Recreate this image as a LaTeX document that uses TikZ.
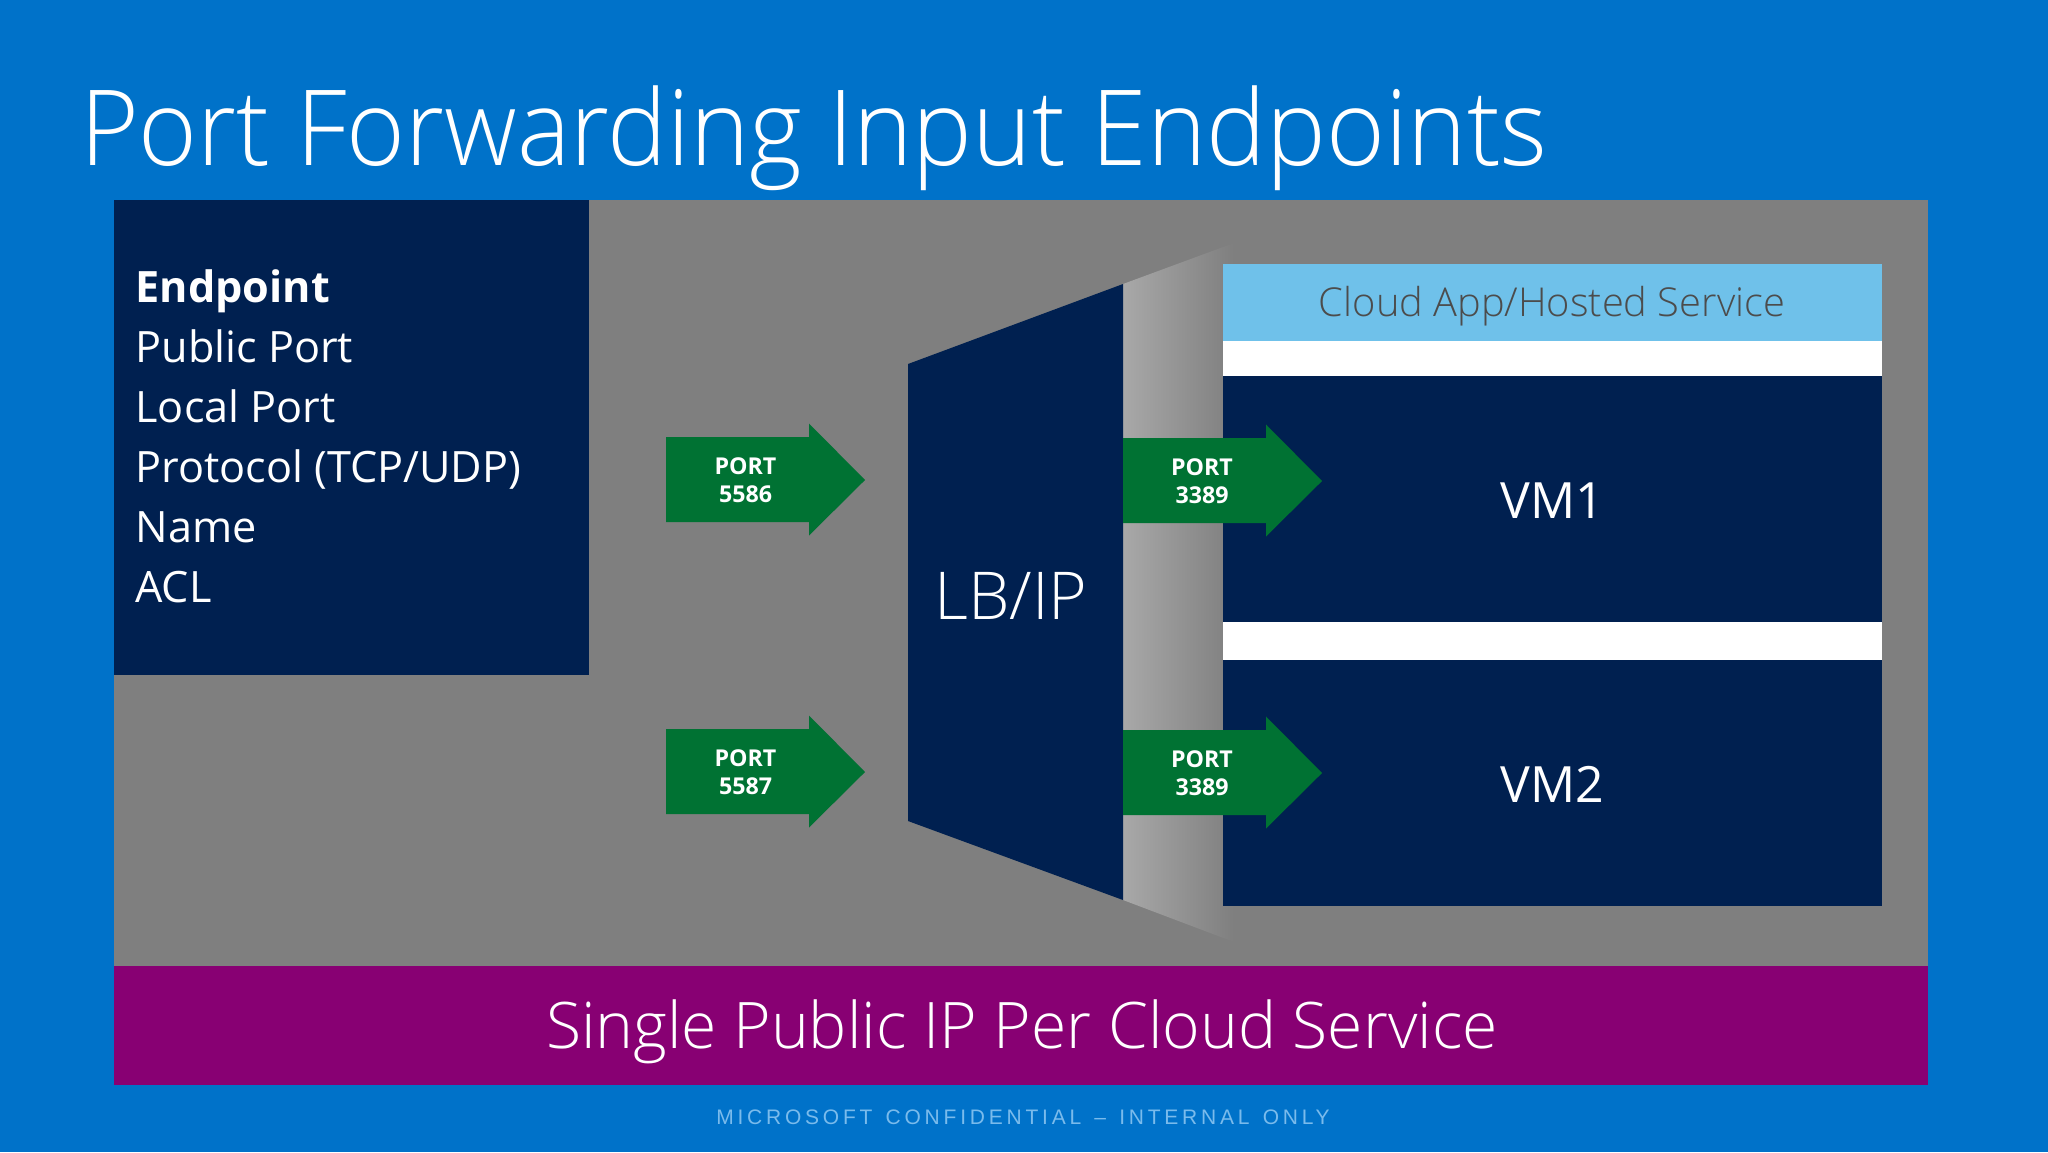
\documentclass[tikz,border=0pt]{standalone}
\usepackage{fontspec}
\setmainfont{Open Sans}
\newfontfamily\lightf{Open Sans Light}
\newfontfamily\titlef{Open Sans Light}[FakeStretch=0.957]
\newfontfamily\regf{Open Sans}
\newfontfamily\footf{Liberation Sans}[LetterSpace=18,WordSpace=1.37]
\definecolor{bgblue}{HTML}{0072C9}
\definecolor{panel}{HTML}{7F7F7F}
\definecolor{navy}{HTML}{002050}
\definecolor{arrowgreen}{HTML}{007233}
\definecolor{plum}{HTML}{880073}
\definecolor{sky}{HTML}{6FC1EA}
\definecolor{footc}{HTML}{7ABBEC}
\tikzset{
  lbl/.style={text=white,inner sep=0pt,outer sep=0pt,align=center},
  portlbl/.style={lbl,font=\fontsize{11.6}{13.8}\selectfont\bfseries},
}
\newcommand{\portarrow}[2]{%
  \fill[arrowgreen] (#1,#2) -- (#1+143,#2) -- (#1+143,#2-13.5) -- (#1+199,#2+43) -- (#1+143,#2+98.5) -- (#1+143,#2+85) -- (#1,#2+85) -- cycle;}
\begin{document}
\begin{tikzpicture}[x=0.5pt,y=-0.5pt]
\useasboundingbox (0,0) rectangle (2048,1152);
\fill[bgblue] (0,0) rectangle (2048,1152);
\node[lbl,anchor=base west,font=\titlef\fontsize{52.5}{60}\selectfont] (title) at (80,165) {Port Forwarding Input Endpoints};
\fill[panel] (114,200) rectangle (1928,966);
\fill[navy] (114,200) rectangle (589,675);
\node[lbl,anchor=north west,align=left,font=\regf\fontsize{21.6}{30}\selectfont] (props) at (135.5,270)
  {\textbf{Endpoint}\\Public Port\\Local Port\\Protocol (TCP/UDP)\\Name\\ACL};
% gradient band behind the balancer
\shade[shading angle=90,left color=white!66!black,right color=panel]
  (1123,284) -- (1234,243) -- (1234,942) -- (1123,900) -- cycle;
\fill[navy] (908,364) -- (1123,284) -- (1123,900) -- (908,821) -- cycle;
\node[lbl,font=\lightf\fontsize{33}{38}\selectfont] (lb) at (1011,596) {LB/IP};
% cloud service
\fill[white] (1223,264) rectangle (1882,660);
\fill[sky] (1223,264) rectangle (1882,341);
\fill[navy] (1223,376) rectangle (1882,622);
\fill[navy] (1223,660) rectangle (1882,906);
\node[lbl,text=black!70,font=\lightf\fontsize{19.9}{24}\selectfont] (cloud) at (1552,306) {Cloud App/Hosted Service};
\node[lbl,font=\regf\fontsize{25}{28}\selectfont] (vm1) at (1552,501) {VM1};
\node[lbl,font=\regf\fontsize{25}{28}\selectfont] (vm2) at (1552,784) {VM2};
% port arrows
\portarrow{666}{437}
\portarrow{666}{729}
\portarrow{1123}{438}
\portarrow{1123}{730}
\node[portlbl] (p1) at (745.5,480) {PORT\\5586};
\node[portlbl] (p2) at (745.5,772) {PORT\\5587};
\node[portlbl] (p3) at (1202,481) {PORT\\3389};
\node[portlbl] (p4) at (1202,773) {PORT\\3389};
% banner
\fill[plum] (114,966) rectangle (1928,1085);
\node[lbl,font=\lightf\fontsize{32.1}{36}\selectfont] (banner) at (1022,1032) {Single Public IP Per Cloud Service};
\node[lbl,text=footc,font=\footf\fontsize{10.5}{12}\selectfont] (foot) at (1023,1117) {MICROSOFT CONFIDENTIAL – INTERNAL ONLY};
\end{tikzpicture}
\end{document}
